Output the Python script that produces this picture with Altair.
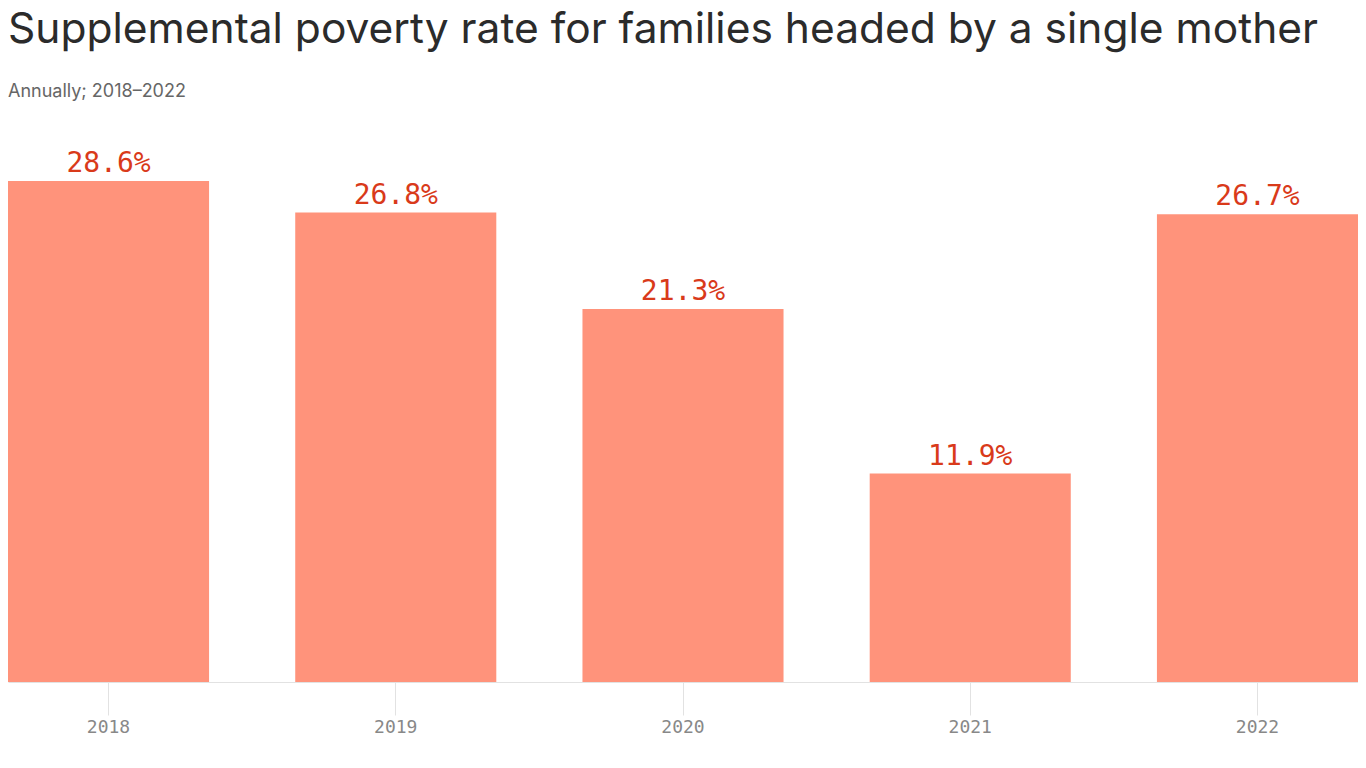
import pandas as pd
import altair as alt

# Data
YEARS = ['2018', '2019', '2020', '2021', '2022']
RATES = [28.6, 26.8, 21.3, 11.9, 26.7]
LABELS = ['28.6%', '26.8%', '21.3%', '11.9%', '26.7%']

BAR_COLOR = '#FF937B'
LABEL_COLOR = '#D93A1A'

df = pd.DataFrame({'year': YEARS, 'rate': RATES, 'label': LABELS})

base = alt.Chart(df).encode(
    x=alt.X('year:N', title=None, sort=YEARS,
            scale=alt.Scale(paddingInner=0.3, paddingOuter=0),
            axis=alt.Axis(labelAngle=0, labelFont='DejaVu Sans Mono',
                          labelFontSize=18, labelColor='#888888',
                          domainColor='#e2e2e2', tickColor='#e2e2e2',
                          tickSize=33, labelPadding=3)),
    y=alt.Y('rate:Q', axis=None, scale=alt.Scale(domain=[0, 28.6], nice=False))
)

bars = base.mark_bar(color=BAR_COLOR)

labels = base.mark_text(
    font='DejaVu Sans Mono', fontSize=28, color=LABEL_COLOR,
    baseline='alphabetic', dy=-9
).encode(text='label:N')

chart = (bars + labels).properties(
    width=1350,
    height=501,
    padding=0,
    title=alt.Title(
        'Supplemental poverty rate for families headed by a single mother',
        subtitle='Annually; 2018–2022',
        anchor='start', frame='group',
        font='Inter', fontSize=42.5, fontWeight='normal', color='#2b2b2b',
        subtitleFont='Inter', subtitleFontSize=18, subtitleColor='#666666',
        subtitlePadding=32, offset=49
    )
).configure_view(stroke=None)

chart.save('out.html', embed_options={'renderer': 'svg', 'actions': False})
